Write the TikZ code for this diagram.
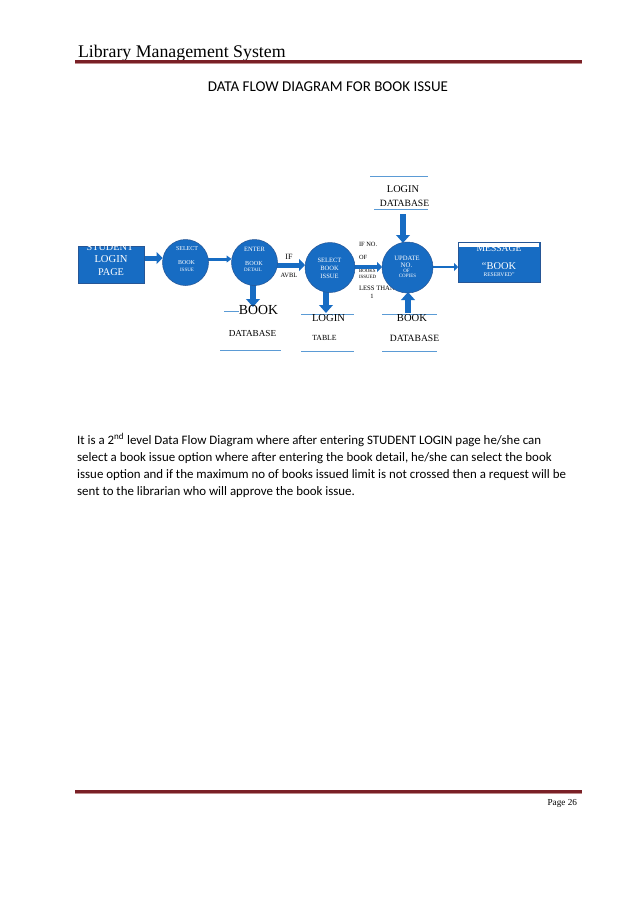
\documentclass[tikz,border=0pt]{standalone}
\usepackage{fontspec}
\setmainfont{Liberation Serif}
\newfontfamily\bodyfont{Carlito}
\usetikzlibrary{arrows.meta}
\definecolor{dfdblue}{RGB}{23,108,195}
\definecolor{dfdedge}{RGB}{38,86,150}
\definecolor{storeblue}{RGB}{91,155,213}
\definecolor{rulered}{RGB}{122,32,38}
\definecolor{rulelight}{RGB}{190,140,140}
\newcommand{\fsz}[1]{\fontsize{#1}{#1}\selectfont}
\pgfdeclarelayer{bg}
\pgfsetlayers{bg,main}
\begin{document}
\begin{tikzpicture}[x=1pt,y=-1pt,
  every node/.style={inner sep=0pt,outer sep=0pt},
  proc/.style={circle,fill=dfdblue,draw=dfdedge,line width=0.5pt,minimum size=#1},
  entity/.style={fill=dfdblue,draw=dfdedge,line width=0.5pt},
  store/.style={minimum width=#1},
  wtext/.style={text=white},
  flowA/.style={draw=dfdblue,line width=5pt,-{Triangle[width=12pt,length=6pt]}},
  flowB/.style={draw=dfdblue,line width=3pt,-{Triangle[width=7pt,length=5pt]}},
  flowC/.style={draw=dfdblue,line width=4pt,-{Triangle[width=10pt,length=5pt]}},
  flowD/.style={draw=dfdblue,line width=2.5pt,-{Triangle[width=8pt,length=4pt]}},
  flowV/.style={draw=dfdblue,line width=6.5pt,-{Triangle[width=13.5pt,length=8pt]}},
  storeline/.style={draw=storeblue,line width=0.8pt},
  rulethick/.style={draw=rulered,line width=3.6pt},
  rulethin/.style={draw=rulelight,line width=0.9pt},
]
\useasboundingbox (0,0) rectangle (638,902);
\begin{pgfonlayer}{bg}
  \fill[white] (0,0) rectangle (638,902);
\end{pgfonlayer}

% page header
\node[anchor=base west,font=\fsz{17.8}] (hdr) at (78,57) {Library Management System};
\draw[rulethick] (75,61.6) -- (582,61.6);
\draw[rulethin] (75,63.9) -- (582,63.9);

% title
\node[font=\bodyfont\fsz{15}] (title) at (328,87) {DATA FLOW DIAGRAM FOR BOOK ISSUE};

% entities
\node[entity,minimum width=66pt,minimum height=37pt] (login) at (111,264.5) {};
\node[entity,minimum width=82pt,minimum height=40pt] (msg) at (499,262) {};
\fill[white] (459,243) rectangle (539,246.6);

% processes
\node[proc=46pt] (c1) at (185.5,262.5) {};
\node[proc=46pt] (c2) at (254.5,262.5) {};
\node[proc=50pt] (c3) at (330,267.5) {};
\node[proc=51pt] (c4) at (407.5,267.5) {};

% data stores (frames)
\node[store=61pt,minimum height=39pt] (storeL) at (250.5,330.5) {};
\node[store=53pt,minimum height=37pt] (storeT) at (327.5,332.5) {};
\node[store=55pt,minimum height=37pt] (storeR) at (409.5,332.5) {};
\node[store=58pt,minimum height=33pt] (storeD) at (399,192.5) {};

\begin{pgfonlayer}{bg}
  % store lines
  \draw[storeline] ([xshift=4pt]storeL.north west) -- ([xshift=19pt]storeL.north west);
  \draw[storeline] (storeL.south west) -- (storeL.south east);
  \draw[storeline] (storeT.north west) -- (storeT.north east);
  \draw[storeline] (storeT.south west) -- (storeT.south east);
  \draw[storeline] (storeR.north west) -- (storeR.north east);
  \draw[storeline] (storeR.south west) -- (storeR.south east);
  \draw[storeline] (storeD.north west) -- (storeD.north east);
  \draw[storeline] ([xshift=4pt]storeD.south west) -- (storeD.south east);
  % flow labels
  \node[font=\fsz{8}] (lif) at (289,257) {IF};
  \node[font=\fsz{6.5}] (lavbl) at (289,275) {AVBL};
  \node[font=\fsz{6.4},anchor=west] (lifno) at (359,244) {IF NO.};
  \node[font=\fsz{6.3},anchor=west] (lof) at (359,257) {OF};
  \node[font=\fsz{4.9},anchor=west] (lbooks) at (359,270.5) {BOOKS};
  \node[font=\fsz{4.9},anchor=west] (lissued) at (359,276.5) {ISSUED};
  \node[font=\fsz{6.7},anchor=west] (lless) at (359,288) {LESS THAN};
  \node[font=\fsz{6.5}] (lone) at (372,296.5) {1};
  % flows
  \draw[flowA,shorten <=-1pt] (login.east |- 0,258) -- (c1.west |- 0,258);
  \draw[flowB,shorten <=-2pt] (c1.east |- 0,259) -- (c2.west |- 0,259);
  \draw[flowA,shorten <=-2pt] (c2.east |- 0,265) -- (c3.west |- 0,265);
  \draw[flowC,shorten <=-2pt] (c3.east |- 0,267) -- (c4.west |- 0,267);
  \draw[flowD,shorten <=-2pt] (c4.east |- 0,267) -- (msg.west |- 0,267);
  \draw[flowV,line width=5.3pt,shorten <=-3pt,shorten >=4pt] (c2.south -| 253,0) -- (storeL.north -| 253,0);
  \draw[flowV,shorten <=-3pt,shorten >=1pt] (c3.south -| 326,0) -- (storeT.north -| 326,0);
  \draw[flowV,shorten <=5pt,shorten >=-1pt] (storeD.south -| 403,0) -- (c4.north -| 403,0);
  \draw[flowV,shorten <=1pt,shorten >=-1pt] (storeR.north -| 408,0) -- (c4.south -| 408,0);
\end{pgfonlayer}

% entity texts
\node[wtext,font=\fsz{10.3},anchor=base] (tstu) at (110,250.5) {STUDENT};
\node[wtext,font=\fsz{10.6}] (tlogin) at (111,259) {LOGIN};
\node[wtext,font=\fsz{10.3}] (tpage) at (111,272) {PAGE};
\node[wtext,font=\fsz{9.6},anchor=base] (tmsg) at (499,251) {MESSAGE};
\node[wtext,font=\fsz{10.4}] (tbook) at (499,266) {“BOOK};
\node[wtext,font=\fsz{5.6}] (tres) at (499,274.5) {RESERVED”};

% process texts
\node[wtext,font=\fsz{6}] (c1a) at (187,249) {SELECT};
\node[wtext,font=\fsz{6}] (c1b) at (186.5,263) {BOOK};
\node[wtext,font=\fsz{5}] (c1c) at (187,269.5) {ISSUE};
\node[wtext,font=\fsz{6.5}] (c2a) at (254.5,249) {ENTER};
\node[wtext,font=\fsz{6.2}] (c2b) at (254,263) {BOOK};
\node[wtext,font=\fsz{5}] (c2c) at (253,269.5) {DETAIL};
\node[wtext,font=\fsz{6.5}] (c3a) at (329.5,260) {SELECT};
\node[wtext,font=\fsz{6.5}] (c3b) at (329.5,268) {BOOK};
\node[wtext,font=\fsz{6.5}] (c3c) at (329.5,276) {ISSUE};
\node[wtext,font=\fsz{6.6}] (c4a) at (407,258) {UPDATE};
\node[wtext,font=\fsz{6.8}] (c4b) at (406.5,265) {NO.};
\node[wtext,font=\fsz{5}] (c4c) at (406.5,270.5) {OF};
\node[wtext,font=\fsz{5}] (c4d) at (407.5,276) {COPIES};

% store texts
\node[font=\fsz{13.8}] (sLa) at (258.5,310) {BOOK};
\node[font=\fsz{9.2}] (sLb) at (252.5,333) {DATABASE};
\node[font=\fsz{10.6}] (sTa) at (328.5,318) {LOGIN};
\node[font=\fsz{7.8}] (sTb) at (324.5,338) {TABLE};
\node[font=\fsz{10.6}] (sRa) at (412,318) {BOOK};
\node[font=\fsz{9.6}] (sRb) at (414.5,338) {DATABASE};
\node[font=\fsz{10.3}] (sDa) at (403,189) {LOGIN};
\node[font=\fsz{9.6}] (sDb) at (404.5,203.5) {DATABASE};

% paragraph
\begin{scope}[every node/.style={anchor=base west,inner sep=0pt,font=\bodyfont\fsz{12.9}}]
\node (p1) at (77,444) {It is a 2\textsuperscript{nd} level Data Flow Diagram where after entering STUDENT LOGIN page he/she can};
\node (p2) at (77,461) {select a book issue option where after entering the book detail, he/she can select the book};
\node (p3) at (77,478) {issue option and if the maximum no of books issued limit is not crossed then a request will be};
\node (p4) at (77,495) {sent to the librarian who will approve the book issue.};
\end{scope}

% page footer
\draw[rulethick] (75,791.5) -- (582,791.5);
\draw[rulethin] (75,793.9) -- (582,793.9);
\node[anchor=east,font=\fsz{9.2}] (pg) at (577,803) {Page 26};
\end{tikzpicture}
\end{document}
